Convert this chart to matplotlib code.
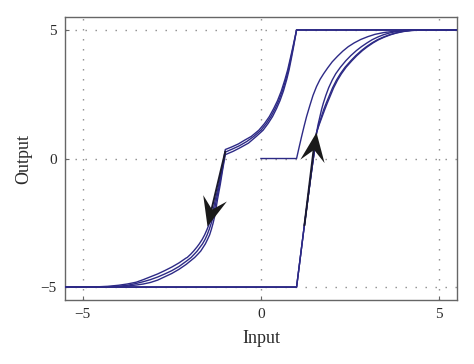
import matplotlib
matplotlib.use("Agg")
from matplotlib import pyplot as plt
from matplotlib.path import Path
from matplotlib.markers import MarkerStyle
from matplotlib.transforms import Affine2D

plt.rcParams['font.family'] = ['Liberation Serif', 'DejaVu Serif']

# descending branch, three curves: upper part (shared y) from the top corner
desc_up_y = [5.0, 4.65, 4.3, 3.9, 3.45, 3.08, 2.62, 2.25, 1.95, 1.63, 1.36, 1.1, 0.86]
desc_up_x_a = [1.0, 0.945, 0.89, 0.825, 0.75, 0.675, 0.57, 0.465, 0.36, 0.235, 0.1, -0.06, -0.27]
desc_up_x_b = [1.0, 0.95, 0.9, 0.84, 0.77, 0.7, 0.6, 0.5, 0.4, 0.28, 0.15, 0.0, -0.2]
desc_up_x_c = [1.0, 0.955, 0.91, 0.855, 0.79, 0.725, 0.63, 0.535, 0.44, 0.325, 0.2, 0.06, -0.13]

# the flat hook near x = -1
desc_hook_x_a = [-0.45, -0.63, -0.82, -1.0]
desc_hook_y_a = [0.72, 0.57, 0.45, 0.35]
desc_hook_x_b = [-0.4, -0.6, -0.8, -1.0]
desc_hook_y_b = [0.66, 0.5, 0.37, 0.25]
desc_hook_x_c = [-0.35, -0.57, -0.78, -1.0]
desc_hook_y_c = [0.6, 0.43, 0.28, 0.15]

# steep drop (shared y)
desc_drop_y = [-0.4, -1.0, -1.6, -2.2, -2.5, -2.75, -2.97, -3.15, -3.32, -3.45, -3.6, -3.72, -3.85]
desc_drop_x_a = [-1.09, -1.18, -1.28, -1.37, -1.44, -1.51, -1.58, -1.65, -1.73, -1.8, -1.89, -1.97, -2.07]
desc_drop_x_b = [-1.08, -1.16, -1.25, -1.33, -1.39, -1.45, -1.51, -1.57, -1.64, -1.71, -1.79, -1.87, -1.96]
desc_drop_x_c = [-1.07, -1.14, -1.22, -1.29, -1.34, -1.39, -1.44, -1.5, -1.56, -1.62, -1.69, -1.77, -1.86]

# tail flattening to -5 (shared x)
desc_tail_x = [-2.1, -2.3, -2.5, -2.7, -2.9, -3.1, -3.3, -3.5, -3.75, -4.0, -4.3, -4.6, -5.5]
desc_tail_y_a = [-3.87, -4.06, -4.22, -4.36, -4.49, -4.6, -4.71, -4.81, -4.88, -4.93, -4.97, -4.99, -5.0]
desc_tail_y_b = [-4.0, -4.2, -4.36, -4.49, -4.61, -4.71, -4.79, -4.86, -4.93, -4.97, -4.99, -5.0, -5.0]
desc_tail_y_c = [-4.12, -4.31, -4.47, -4.6, -4.73, -4.82, -4.88, -4.92, -4.96, -4.98, -5.0, -5.0, -5.0]

# ascending branch: flat at -5 then a steep rise
asc_steep_x = [-5.5, 1.0, 1.1, 1.2, 1.3, 1.4, 1.47, 1.52, 1.56]
asc_steep_y = [-5.0, -5.0, -3.9, -2.8, -1.75, -0.7, 0.0, 0.5, 1.0]
# saturating part (shared y)
asc_top_y = [1.3, 1.6, 1.9, 2.15, 2.45, 2.75, 3.05, 3.3, 3.55, 3.8, 4.0, 4.2, 4.35, 4.5,
             4.62, 4.72, 4.81, 4.88, 4.94, 4.98, 5.0, 5.0]
asc_top_x_a = [1.6, 1.65, 1.7, 1.75, 1.82, 1.9, 2.0, 2.1, 2.23, 2.38, 2.52, 2.68, 2.82, 2.98,
               3.12, 3.27, 3.43, 3.6, 3.8, 4.05, 4.5, 5.5]
asc_top_x_b = [1.62, 1.69, 1.76, 1.83, 1.92, 2.01, 2.12, 2.23, 2.36, 2.52, 2.66, 2.82, 2.96, 3.12,
               3.27, 3.43, 3.6, 3.77, 3.97, 4.2, 4.55, 5.5]
asc_top_x_c = [1.63, 1.71, 1.79, 1.86, 1.95, 2.04, 2.15, 2.26, 2.39, 2.55, 2.69, 2.85, 2.99, 3.15,
               3.3, 3.46, 3.63, 3.8, 4.0, 4.23, 4.57, 5.5]

# initial curve from the origin
init_x = [0, 1.0, 1.07, 1.14, 1.21, 1.28, 1.37, 1.46, 1.56, 1.66, 1.76, 1.87, 2.0, 2.15, 2.3,
          2.45, 2.62, 2.8, 3.0, 3.2, 3.45, 3.75, 4.1, 4.55, 5.5]
init_y = [0, 0, 0.43, 0.85, 1.25, 1.63, 2.05, 2.45, 2.8, 3.08, 3.3, 3.52, 3.76, 3.98, 4.18,
          4.35, 4.5, 4.63, 4.74, 4.83, 4.9, 4.95, 4.98, 5.0, 5.0]

# arrows (tail, tip) and heading in degrees
arrow_tail = [(-1.0, 0.27), (1.22, -2.6)]
arrow_tip = [(-1.5, -2.64), (1.54, 1.05)]
arrow_angle = [-105, 82]

ticks = [-5, 0, 5]

line_col = '#2d2a86'

fig = plt.figure(figsize=(4.74, 3.64), dpi=100)
ax = fig.add_axes([0.137, 0.176, 0.827, 0.777])

# descending curves
desc = [(desc_up_x_a, desc_hook_x_a, desc_hook_y_a, desc_drop_x_a, desc_tail_y_a),
        (desc_up_x_b, desc_hook_x_b, desc_hook_y_b, desc_drop_x_b, desc_tail_y_b),
        (desc_up_x_c, desc_hook_x_c, desc_hook_y_c, desc_drop_x_c, desc_tail_y_c)]
for up_x, hx, hy, dx, ty in desc:
    xs = [5.5] + up_x + hx + dx + desc_tail_x
    ys = [5.0] + desc_up_y + hy + desc_drop_y + ty
    ax.plot(xs, ys, color=line_col, lw=1.0, zorder=3)

# ascending curves
for top_x in [asc_top_x_a, asc_top_x_b, asc_top_x_c]:
    ax.plot(asc_steep_x + top_x, asc_steep_y + asc_top_y, color=line_col, lw=1.0, zorder=3)

ax.plot(init_x, init_y, color=line_col, lw=1.0, zorder=3)

# arrow shafts and swept heads
head = Path([(0, 0), (-1.0, 0.42), (-0.6, 0), (-1.0, -0.42), (0, 0)],
            [Path.MOVETO, Path.LINETO, Path.LINETO, Path.LINETO, Path.CLOSEPOLY])
for tail, tip, ang in zip(arrow_tail, arrow_tip, arrow_angle):
    ax.annotate('', xy=tip, xytext=tail,
                arrowprops=dict(arrowstyle='-', color='#1a1a2e', lw=1.4, shrinkA=0, shrinkB=6),
                zorder=4)
    ax.plot(tip[0], tip[1], marker=MarkerStyle(head, transform=Affine2D().rotate_deg(ang)),
            markersize=42, color='#1a1a1a', markeredgewidth=0, linestyle='none', zorder=5)

ax.set_xlim(-5.5, 5.5)
ax.set_ylim(-5.5, 5.5)
ax.set_xticks(ticks)
ax.set_yticks(ticks)
ax.grid(True, color='#8a8a8a', linestyle=(0, (1, 6.2)), linewidth=1.0)
ax.tick_params(direction='in', length=3, width=0.8, color='#666666',
               labelsize=11, labelcolor='#2a2a2a', pad=6)
for s in ax.spines.values():
    s.set_color('#666666')
    s.set_linewidth(1.0)

ax.set_xlabel('Input', fontsize=13, color='#2a2a2a', labelpad=6)
ax.set_ylabel('Output', fontsize=13, color='#2a2a2a', labelpad=6)

fig.savefig('out.png', dpi=100)
